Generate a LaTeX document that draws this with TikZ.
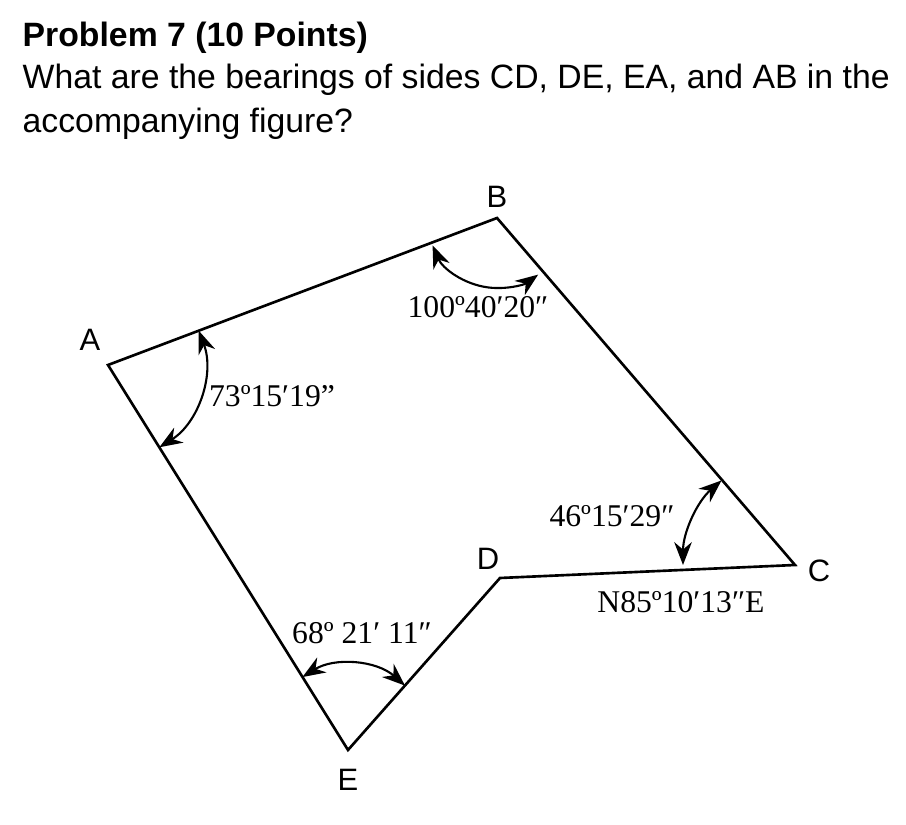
\documentclass[tikz,border=0pt]{standalone}
\usepackage{fontspec}
\setmainfont{Liberation Sans}
\newfontfamily\tms{Liberation Serif}
\usetikzlibrary{arrows.meta}
\begin{document}
\begin{tikzpicture}[x=0.01cm,y=-0.01cm,
  edge/.style={line width=0.75pt},
  angarc/.style={line width=0.6pt,{Stealth[length=6.5pt,width=5pt]}-{Stealth[length=6.5pt,width=5pt]}},
  ang/.style={font=\tms\fontsize{9pt}{10pt}\selectfont,inner sep=0pt},
  vlab/.style={font=\fontsize{8.8pt}{10pt}\selectfont,inner sep=0pt}]
\useasboundingbox (0,0) rectangle (906,825);
\node[anchor=west,inner sep=0pt,font=\bfseries\fontsize{9.6pt}{11pt}\selectfont] (t1) at (22,38) {Problem 7 (10 Points)};
\node[anchor=west,inner sep=0pt,font=\fontsize{9.6pt}{11pt}\selectfont] (t2) at (22,80) {What are the bearings of sides CD, DE, EA, and AB in the};
\node[anchor=west,inner sep=0pt,font=\fontsize{9.6pt}{11pt}\selectfont] (t3) at (22,124) {accompanying figure?};
\coordinate (A) at (108,365);
\coordinate (B) at (497,218);
\coordinate (C) at (795,565);
\coordinate (D) at (500,578);
\coordinate (E) at (348,750);
\draw[edge,line join=miter] (A) -- (B) -- (C) -- (D) -- (E) -- cycle;
\draw[angarc] ([shift={(-20.7:97)}]A) arc[start angle=-20.7,end angle=58,radius=97];
\draw[angarc] ([shift={(-203:70)}]B) arc[start angle=-203,end angle=-306,radius=70];
\draw[angarc] ([shift={(-131:112)}]C) arc[start angle=-131,end angle=-180,radius=112];
\draw[angarc] ([shift={(-122:86)}]E) arc[start angle=-122,end angle=-48.5,radius=86];
\node[vlab] (lB) at (497,197) {B};
\node[vlab] (lA) at (90,340) {A};
\node[vlab] (lC) at (819,571) {C};
\node[vlab] (lD) at (488,559) {D};
\node[vlab] (lE) at (348,780) {E};
\node[ang] (aB) at (478,307) {100º40′20″};
\node[ang] (aA) at (272,396) {73º15′19”};
\node[ang] (aC) at (612,516) {46º15′29″};
\node[ang] (bD) at (681,602) {N85º10′13″E};
\node[ang] (aE) at (362,633) {68º 21′ 11″};
\end{tikzpicture}
\end{document}
